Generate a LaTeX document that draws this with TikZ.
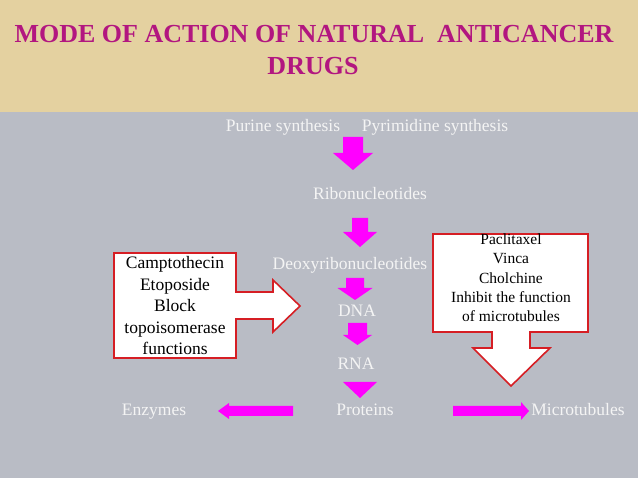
\documentclass[tikz,border=0pt]{standalone}
\usepackage{fontspec}
\setmainfont{Liberation Serif}[BoldFont={Liberation Serif Bold}]
\usetikzlibrary{positioning}
\definecolor{paper}{RGB}{228,209,160}
\definecolor{slate}{RGB}{185,188,197}
\definecolor{titlepink}{RGB}{178,22,128}
\definecolor{boxred}{RGB}{214,30,36}
\definecolor{paletext}{RGB}{244,244,244}
\definecolor{fuchsia}{RGB}{255,0,255}
\tikzset{
    heading/.style={anchor=base, text=titlepink, font=\fontsize{26}{33}\selectfont\bfseries, inner sep=0pt},
    pathtext/.style={anchor=base, text=paletext, font=\fontsize{17.5}{21}\selectfont, inner sep=0pt},
    fatarrow/.style={fill=fuchsia, draw=none},
    callout/.style={draw=boxred, fill=white, line width=1.6pt, line join=miter},
    callouttext/.style={align=center, text=black, inner sep=0pt},
}
% centre x, top y, shaft half width, head half width, neck y, tip y
\newcommand{\fatdown}[6]{%
    \fill[fatarrow] ({#1-#3},#2) -- ({#1+#3},#2) -- ({#1+#3},#5) -- ({#1+#4},#5)
        -- (#1,#6) -- ({#1-#4},#5) -- ({#1-#3},#5) -- cycle;}

\begin{document}
\begin{tikzpicture}[x=1pt, y=-1pt]
    \useasboundingbox (0,0) rectangle (638,478);
    \fill[paper] (0,0) rectangle (638,112);
    \fill[slate] (0,112) rectangle (638,478);

    % Title
    \node[heading] (title) at (314,43) {MODE OF ACTION OF NATURAL~ ANTICANCER};
    \node[heading] (titleb) at (313,75) {DRUGS};

    % Pathway
    \node[pathtext] (purine) at (283,132) {Purine synthesis};
    \node[pathtext] (pyrimidine) at (435,132) {Pyrimidine synthesis};
    \node[pathtext] (ribo) at (370,200) {Ribonucleotides};
    \node[pathtext] (deoxy) at (350,270) {Deoxyribonucleotides};
    \node[pathtext] (dna) at (357,317) {DNA};
    \node[pathtext] (rna) at (356,370) {RNA};
    \node[pathtext] (proteins) at (365,416) {Proteins};
    \node[pathtext] (enzymes) at (154,416) {Enzymes};
    \node[pathtext] (microtubules) at (578,416) {Microtubules};

    % Down arrows
    \fatdown{353}{137}{10}{20}{153}{170}
    \fatdown{360}{218}{8}{17}{232}{247}
    \fatdown{355}{278}{9}{17.5}{288}{300}
    \fatdown{357.5}{323}{9.5}{14.5}{335}{345}
    \fatdown{360}{382}{17}{17}{382}{398}

    % Side arrows
    \fill[fatarrow] (293,406) -- (229,406) -- (229,403) -- (218,411) -- (229,419) -- (229,416) -- (293,416) -- cycle;
    \fill[fatarrow] (453,406) -- (521,406) -- (521,402) -- (529,411) -- (521,420) -- (521,416) -- (453,416) -- cycle;

    % Drug callouts
    \draw[callout] (114,253) -- (236,253) -- (236,292) -- (273,292) -- (273,280) -- (300,306) -- (273,332)
        -- (273,319) -- (236,319) -- (236,358) -- (114,358) -- cycle;
    \node[callouttext, font=\fontsize{17.5}{21.5}\selectfont] (topo) at (175,306)
        {Camptothecin\\Etoposide\\Block\\topoisomerase\\functions};
    \draw[callout] (433,234) -- (588,234) -- (588,332) -- (530,332) -- (530,348) -- (550,348) -- (511,386)
        -- (473,348) -- (492,348) -- (492,332) -- (433,332) -- cycle;
    \node[callouttext, font=\fontsize{15.5}{19.3}\selectfont] (tubulin) at (511,278)
        {Paclitaxel\\Vinca\\Cholchine\\Inhibit the function\\of microtubules};
\end{tikzpicture}
\end{document}
